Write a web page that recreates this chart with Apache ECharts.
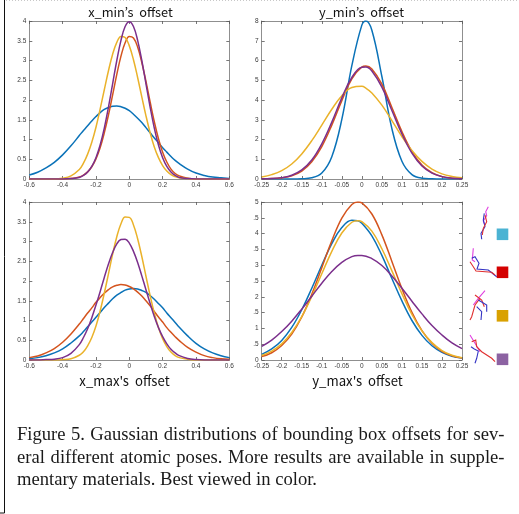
<!DOCTYPE html>
<html><head><meta charset="utf-8">
<script src="https://cdn.jsdelivr.net/npm/echarts@6/dist/echarts.min.js"></script>
<style>html,body{margin:0;padding:0;background:#fff;}#c{width:519px;height:514px;}</style>
</head><body><div id="c"></div>
<script>
// ---------- data ----------
const xsWide = [-0.6,-0.55,-0.5,-0.45,-0.4,-0.35,-0.3,
  -0.275,-0.25,-0.225,-0.2,-0.175,-0.15,-0.125,-0.1,-0.075,-0.05,-0.025,0,0.025,0.05,0.075,0.1,0.125,0.15,0.175,0.2,0.225,0.25,0.275,
  0.3,0.35,0.4,0.45,0.5,0.55,0.6];
const xsYmin = [-0.25,-0.225,-0.2,-0.175,-0.15,-0.125,-0.1,-0.075,-0.05,-0.025,0,0.01,0.025,0.05,0.075,0.1,0.125,0.15,0.175,0.2,0.225,0.25];
const xsYmax = [-0.25,-0.225,-0.2,-0.175,-0.15,-0.125,-0.1,-0.075,-0.05,-0.025,-0.01,0,0.025,0.05,0.075,0.1,0.125,0.15,0.175,0.2,0.225,0.25];

// x_min's offset
const xminBlue   = [0.10,0.17,0.28,0.42,0.61,0.84,1.10, 1.23,1.35,1.47,1.58,1.68,1.76,1.81,1.84,1.85,1.83,1.79,1.73,1.64,1.54,1.43,1.30,1.17,1.04,0.92,0.79,0.68,0.57,0.47, 0.39,0.25,0.15,0.09,0.05,0.03,0.01];
const xminOrange = [0,0,0,0,0,0.01,0.05, 0.10,0.18,0.31,0.51,0.79,1.17,1.62,2.13,2.65,3.11,3.45,3.61,3.57,3.34,2.95,2.47,1.95,1.45,1.02,0.68,0.43,0.25,0.14, 0.08,0.02,0,0,0,0,0];
const xminYellow = [0,0,0,0,0.02,0.08,0.24, 0.40,0.63,0.93,1.31,1.77,2.26,2.74,3.16,3.46,3.61,3.58,3.37,3.02,2.57,2.08,1.60,1.17,0.81,0.54,0.34,0.20,0.11,0.06, 0.03,0.01,0,0,0,0,0];
const xminPurple = [0,0,0,0,0,0.01,0.04, 0.09,0.18,0.32,0.54,0.86,1.29,1.82,2.41,3.00,3.51,3.86,3.98,3.86,3.51,3.00,2.41,1.82,1.29,0.86,0.54,0.32,0.18,0.09, 0.04,0.01,0,0,0,0,0];

// y_min's offset
const yminBlue   = [0,0,0,0,0.01,0.06,0.30,1.13,3.02,5.74,7.79,8.00,7.53,5.19,2.55,0.90,0.22,0.04,0.01,0,0,0];
const yminOrange = [0.01,0.02,0.06,0.16,0.40,0.87,1.64,2.73,3.97,5.07,5.67,5.72,5.57,4.80,3.62,2.40,1.39,0.71,0.32,0.12,0.04,0.01];
const yminYellow = [0.10,0.22,0.42,0.76,1.27,1.94,2.73,3.53,4.22,4.63,4.69,4.60,4.36,3.74,2.96,2.15,1.44,0.89,0.50,0.26,0.13,0.06];
const yminPurple = [0.01,0.02,0.07,0.19,0.46,0.96,1.78,2.88,4.11,5.14,5.66,5.67,5.47,4.65,3.47,2.28,1.31,0.66,0.30,0.12,0.04,0.01];

// x_max's offset
const xmaxBlue   = [0.03,0.06,0.11,0.18,0.28,0.43,0.61, 0.72,0.84,0.96,1.08,1.20,1.33,1.44,1.55,1.64,1.71,1.77,1.80,1.81,1.80,1.76,1.71,1.63,1.54,1.43,1.32,1.19,1.07,0.95, 0.83,0.61,0.42,0.28,0.18,0.11,0.06];
const xmaxOrange = [0.06,0.10,0.18,0.29,0.45,0.66,0.91, 1.05,1.19,1.32,1.46,1.58,1.69,1.78,1.85,1.89,1.91,1.90,1.86,1.80,1.72,1.62,1.50,1.37,1.23,1.09,0.96,0.82,0.70,0.59, 0.49,0.32,0.20,0.11,0.06,0.03,0.02];
const xmaxYellow = [0,0,0,0,0.01,0.03,0.12, 0.21,0.36,0.57,0.86,1.24,1.69,2.18,2.68,3.12,3.45,3.62,3.61,3.42,3.07,2.62,2.12,1.63,1.19,0.82,0.54,0.34,0.20,0.11, 0.06,0.02,0,0,0,0,0];
const xmaxPurple = [0,0,0.01,0.02,0.06,0.17,0.39, 0.57,0.79,1.07,1.39,1.73,2.09,2.43,2.72,2.94,3.05,3.06,2.96,2.75,2.47,2.13,1.78,1.43,1.10,0.82,0.59,0.41,0.27,0.18, 0.11,0.04,0.01,0,0,0,0];

// y_max's offset
const ymaxBlue   = [0.18,0.35,0.62,1.03,1.59,2.27,3.00,3.68,4.19,4.42,4.41,4.33,3.93,3.31,2.58,1.87,1.25,0.78,0.45,0.24,0.12,0.06];
const ymaxOrange = [0.11,0.23,0.46,0.82,1.36,2.08,2.92,3.77,4.49,4.92,5.00,4.97,4.62,3.96,3.12,2.26,1.51,0.93,0.53,0.27,0.13,0.06];
const ymaxYellow = [0.14,0.28,0.51,0.87,1.37,2.01,2.73,3.44,4.02,4.36,4.41,4.38,4.08,3.52,2.82,2.10,1.44,0.92,0.55,0.30,0.15,0.07];
const ymaxPurple = [0.43,0.63,0.90,1.23,1.61,2.02,2.43,2.80,3.09,3.27,3.31,3.31,3.21,2.99,2.66,2.27,1.86,1.46,1.09,0.79,0.54,0.36];

// tick labels
const xTicksWide   = ['-0.6','-0.4','-0.2','0','0.2','0.4','0.6'];
const xTicksNarrow = ['-0.25','-0.2','-0.15','-0.1','-0.05','0','0.05','0.1','0.15','0.2','0.25'];
const yTicks4 = ['0','0.5','1','1.5','2','2.5','3','3.5','4'];
const yTicks8 = ['0','1','2','3','4','5','6','7','8'];
const yTicks5 = ['0','.5','1','.5','2','.5','3','.5','4','.5','5'];

const titles = ["x_min\u2019s  offset", "y_min\u2019s  offset"];
const xLabels = ["x_max's  offset", "y_max's  offset"];
const captionLines = [
  "Figure 5. Gaussian distributions of bounding box offsets for sev-",
  "eral different atomic poses.  More results are available in supple-",
  "mentary materials. Best viewed in color."
];
const colors = ['#0a72b8','#d4541e','#eab22a','#7b2f8c'];
const legendColors = ['#4bb3d3','#d40000','#d9a100','#8c62a2'];

// ---------- layout ----------
const grids = [
  {left:29.3, top:21, width:200, height:158},
  {left:261.7, top:21, width:200.3, height:158},
  {left:29.3, top:202, width:200, height:158},
  {left:261.7, top:202, width:200.3, height:158}
];
const panels = [
  {xs:xsWide, xmin:-0.6, xmax:0.6, xint:0.2, xl:xTicksWide, ymax:4, yint:0.5, yl:yTicks4, series:[xminBlue,xminOrange,xminYellow,xminPurple]},
  {xs:xsYmin, xmin:-0.25, xmax:0.25, xint:0.05, xl:xTicksNarrow, ymax:8, yint:1, yl:yTicks8, series:[yminBlue,yminOrange,yminYellow,yminPurple]},
  {xs:xsWide, xmin:-0.6, xmax:0.6, xint:0.2, xl:xTicksWide, ymax:4, yint:0.5, yl:yTicks4, series:[xmaxBlue,xmaxOrange,xmaxYellow,xmaxPurple]},
  {xs:xsYmax, xmin:-0.25, xmax:0.25, xint:0.05, xl:xTicksNarrow, ymax:5, yint:0.5, yl:yTicks5, series:[ymaxBlue,ymaxOrange,ymaxYellow,ymaxPurple]}
];

const boxColor = '#8f8f8f';
const tickColor = '#555';
const labelStyle = {fontSize:6.5, color:'#3a3a3a', fontFamily:'Liberation Sans, Arial, sans-serif'};

const xAxes = [], yAxes = [], series = [];
panels.forEach((p, gi) => {
  const xf = v => p.xl[Math.round((v - p.xmin) / p.xint)] ?? '';
  const yf = v => p.yl[Math.round(v / p.yint)] ?? '';
  ['bottom','top'].forEach(pos => {
    xAxes.push({
      type:'value', gridIndex:gi, position:pos, min:p.xmin, max:p.xmax, interval:p.xint,
      axisLine:{show:true, onZero:false, lineStyle:{color:boxColor, width:1}},
      axisTick:{show:true, inside:true, length:3, lineStyle:{color:tickColor, width:0.8}},
      axisLabel:{show:pos==='bottom', margin:3, formatter:xf, showMinLabel:true, showMaxLabel:true, ...labelStyle},
      splitLine:{show:false}
    });
  });
  ['left','right'].forEach(pos => {
    yAxes.push({
      type:'value', gridIndex:gi, position:pos, min:0, max:p.ymax, interval:p.yint,
      axisLine:{show:true, onZero:false, lineStyle:{color:boxColor, width:1}},
      axisTick:{show:true, inside:true, length:3, lineStyle:{color:tickColor, width:0.8}},
      axisLabel:{show:pos==='left', margin:3, formatter:yf, showMinLabel:true, showMaxLabel:true, ...labelStyle},
      splitLine:{show:false}
    });
  });
  p.series.forEach((ys, si) => {
    series.push({
      type:'line', xAxisIndex:gi*2, yAxisIndex:gi*2, showSymbol:false, symbol:'none',
      smooth:0.4, silent:true, animation:false, z: 2 + si,
      data: p.xs.map((x, i) => [x, ys[i]]),
      lineStyle:{color:colors[si], width:1.5},
      itemStyle:{color:colors[si]}
    });
  });
});

// ---------- decorations ----------
const g = [];
function txt(x, y, t, font, align, fill) {
  g.push({type:'text', x:x, y:y, silent:true,
    style:{text:t, font:font, fill:fill||'#111', textAlign:align||'center', textVerticalAlign:'middle', align:align||'center', verticalAlign:'middle'}});
}
const sansFont = '12.8px "Noto Sans CJK KR", "Noto Sans", sans-serif';
const sansFont2 = '13.2px "Noto Sans CJK KR", "Noto Sans", sans-serif';
txt(130.5, 12.5, titles[0], sansFont);
txt(361.5, 12.3, titles[1], sansFont);
txt(124.5, 380.5, xLabels[0], sansFont2);
txt(357.5, 380.5, xLabels[1], sansFont2);

// left page border & faint dotted top rule
g.push({type:'line', silent:true, shape:{x1:4.5,y1:0,x2:4.5,y2:513}, style:{stroke:'#111', lineWidth:1}});
g.push({type:'line', silent:true, shape:{x1:0,y1:513,x2:4.5,y2:513}, style:{stroke:'#111', lineWidth:1}});
g.push({type:'line', silent:true, shape:{x1:6,y1:0.5,x2:519,y2:0.5}, style:{stroke:'#c8c8c8', lineWidth:1, lineDash:[1,2]}});

// pose icons
const MAG='#e040e0', RED='#e03030', BLU='#3434c4';
const poses = [
  [[MAG,[[488.3,206.7],[485.7,211.7],[486.7,215.7],[483.3,221],[485,225]]],
   [BLU,[[484.3,213.3],[483.3,220],[485,226.7],[481,233.3],[481.7,239.3]]],
   [RED,[[485,215],[486.7,221.7],[483.3,228.3],[482.3,235]]]],
  [[MAG,[[473.3,248.3],[472.3,260],[475,261.7]]],
   [BLU,[[471.7,258.3],[475,256.7],[479,263.3],[477,269],[488.3,270],[496.7,276.7]]],
   [RED,[[470,261.7],[473.3,266.7],[476,271],[491.7,272.3],[495,275]]]],
  [[MAG,[[485,290.7],[478.3,298.3],[473.3,305]]],
   [RED,[[480,298.3],[475,305],[471.7,316.7],[470,320]]],
   [RED,[[475,295],[481.7,300],[484.3,306.7]]],
   [BLU,[[478.3,300],[486.7,305],[486.7,311.7]]],
   [BLU,[[476.7,306.7],[481.7,311.7],[481,320]]]],
  [[MAG,[[470,335],[475,343.3],[480,351.7]]],
   [RED,[[471.7,341.7],[475.7,340],[476.7,346.7],[481.7,351.7],[491.7,358.3],[495,361.7]]],
   [BLU,[[471,346.7],[474.3,349],[478.3,351],[476.7,358.3],[475,363.3]]]]
];
poses.forEach(p => p.forEach(([c, pts]) => g.push({type:'polyline', silent:true, shape:{points:pts}, style:{stroke:c, lineWidth:1.1, fill:null}})));
[228.5, 266.5, 310, 353.5].forEach((y, i) => g.push({type:'rect', silent:true, shape:{x:496.7, y:y, width:11.6, height:11.6}, style:{fill:legendColors[i]}}));

// caption (justified lines 1 and 2)
const capFont = '18.6px "Liberation Serif", "Times New Roman", serif';
const mctx = document.createElement('canvas').getContext('2d');
mctx.font = capFont;
const capLeft = 17, capRight = 504.5, capY = [435.3, 457.8, 480.3];
captionLines.forEach((line, li) => {
  if (li === captionLines.length - 1) { txt(capLeft, capY[li], line, capFont, 'left', '#1a1a1a'); return; }
  const words = line.split(/\s+/);
  const widths = words.map(w => mctx.measureText(w).width);
  const sum = widths.reduce((a, b) => a + b, 0);
  const gap = (capRight - capLeft - sum) / (words.length - 1);
  let x = capLeft;
  words.forEach((w, i) => { txt(x, capY[li], w, capFont, 'left', '#1a1a1a'); x += widths[i] + gap; });
});

const chart = echarts.init(document.getElementById('c'), null, {renderer:'canvas'});
chart.setOption({
  animation:false,
  backgroundColor:'#fff',
  grid: grids.map(gr => ({...gr, containLabel:false, show:true, backgroundColor:'#fff', borderWidth:0})),
  xAxis: xAxes,
  yAxis: yAxes,
  series: series,
  graphic: {elements: g}
});
</script></body></html>
